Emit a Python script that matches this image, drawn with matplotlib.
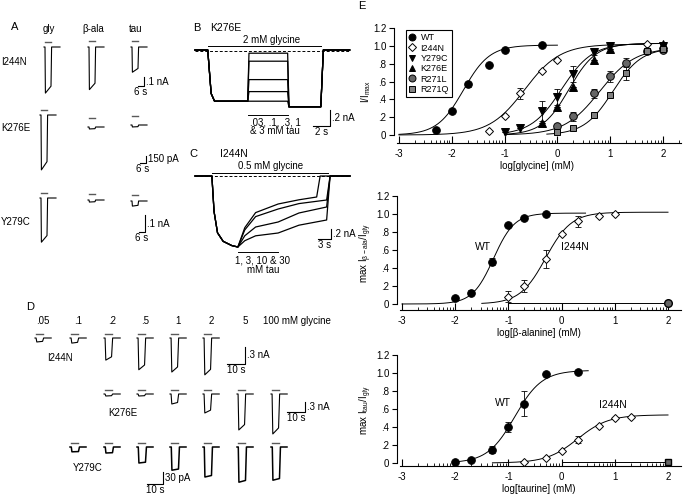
import numpy as np
import matplotlib
matplotlib.use('Agg')
import matplotlib.pyplot as plt
from matplotlib.lines import Line2D

plt.rcParams['font.family'] = ['Liberation Sans', 'DejaVu Sans']
plt.rcParams['font.size'] = 7

# ---------------- data ----------------
# panel A: peak currents (nA) for gly, b-ala, tau
A_agonists = ['gly', 'β-ala', 'tau']
A_mutants = ['I244N', 'K276E', 'Y279C']
A_peaks = [[0.53, 0.49, 0.29],
           [1.12, 0.04, 0.04],
           [0.26, 0.012, 0.03]]
A_scale_nA = [0.1, 0.15, 0.1]
A_scale_lab = ['.1 nA', '150 pA', '.1 nA']
A_scale_s = 6

# panel B: K276E, 2 mM glycine + taurine
B_tau = ['.03', '.1', '.3', '1', '3']
B_levels = [0.64, 0.52, 0.37, 0.14, 0.04]      # nA during taurine
B_gly = 0.64
B_gly_after = 0.71
B_times = [1.5, 6.2, 10.9, 14.8, 18.2]         # gly on, tau on, tau off, gly off, end (s)

# panel C: I244N, 0.5 mM glycine + taurine
C_tau = ['1', '3', '10', '30']
C_peak = 1.42
C_mid = [0.56, 0.66, 0.92, 1.14]               # nA at end of taurine
C_end = [0.42, 0.48, 0.62, 0.88]               # nA before glycine off
C_off = [28.4, 30.7, 30.7, 30.7]
C_times = [3.9, 9.9, 19.2, 35.8]               # gly on, tau on, tau off, end (s)

# panel D: glycine concentration series
D_conc = ['.05', '.1', '.2', '.5', '1', '2', '5', '100 mM glycine']
D_I244N = [0.07, 0.09, 0.39, 0.56, 0.60, 0.65]          # nA, conc 0..5
D_K276E = [0.06, 0.06, 0.30, 0.57, 1.08, 1.20]          # nA, conc 2..7
D_Y279C = [12, 15, 40, 58, 75, 88, 83]                  # pA, conc 1..7

# panel E: dose response, log10 concentration (mM)
gly_x = {
    'WT':    [-2.3, -2.0, -1.7, -1.3, -1.0, -0.3],
    'I244N': [-1.3, -1.0, -0.7, -0.3, 0.0, 1.7],
    'Y279C': [-1.0, -0.7, -0.3, 0.0, 0.3, 0.7, 1.0, 2.0],
    'K276E': [-0.3, 0.0, 0.3, 0.7, 1.0, 2.0],
    'R271L': [0.0, 0.3, 0.7, 1.0, 1.3, 1.7, 2.0],
    'R271Q': [0.0, 0.3, 0.7, 1.0, 1.3, 1.7, 2.0],
}
gly_y = {
    'WT':    [0.06, 0.27, 0.57, 0.79, 0.95, 1.01],
    'I244N': [0.045, 0.21, 0.47, 0.72, 0.84, 1.02],
    'Y279C': [0.03, 0.08, 0.27, 0.43, 0.69, 0.93, 1.0, 1.0],
    'K276E': [0.13, 0.31, 0.54, 0.84, 0.97, 1.02],
    'R271L': [0.10, 0.21, 0.47, 0.66, 0.81, 0.94, 0.96],
    'R271Q': [0.03, 0.08, 0.22, 0.45, 0.70, 0.94, 0.97],
}
gly_err = {
    'WT':    [0, 0, 0.03, 0, 0, 0],
    'I244N': [0, 0, 0.06, 0, 0, 0],
    'Y279C': [0, 0, 0.11, 0.09, 0.09, 0.03, 0, 0],
    'K276E': [0, 0, 0, 0, 0, 0],
    'R271L': [0, 0.05, 0.05, 0.06, 0.05, 0, 0],
    'R271Q': [0, 0, 0, 0, 0.08, 0, 0],
}
# Hill fits: (log EC50, n, max, x from, x to)
gly_fit = {
    'WT':    (-1.78, 1.75, 1.01, -3.0, 0.0),
    'I244N': (-0.62, 1.3, 1.02, -3.0, 1.7),
    'Y279C': (0.08, 1.5, 1.03, -1.0, 2.0),
    'K276E': (0.22, 1.7, 1.03, -1.0, 2.0),
    'R271L': (0.80, 1.3, 0.98, -1.0, 2.0),
    'R271Q': (1.05, 1.6, 0.98, -0.2, 2.0),
}

bala_x = {'WT': [-2.0, -1.7, -1.3, -1.0, -0.7, -0.3],
          'I244N': [-1.0, -0.7, -0.3, 0.0, 0.3, 0.7, 1.0]}
bala_y = {'WT': [0.07, 0.125, 0.47, 0.88, 0.96, 1.0],
          'I244N': [0.08, 0.2, 0.5, 0.78, 0.92, 0.98, 1.0]}
bala_err = {'WT': [0, 0.03, 0.04, 0, 0, 0],
            'I244N': [0.06, 0.07, 0.1, 0, 0.06, 0, 0]}
bala_fit = {'WT': (-1.28, 2.2, 1.01, -3.0, 0.45),
            'I244N': (-0.3, 1.8, 1.02, -1.5, 2.0)}

tau_x = {'WT': [-2.0, -1.7, -1.3, -1.0, -0.7, -0.3, 0.3],
         'I244N': [-0.7, -0.3, 0.0, 0.3, 0.7, 1.0, 1.3]}
tau_y = {'WT': [0.01, 0.03, 0.15, 0.40, 0.66, 0.99, 1.01],
         'I244N': [0.01, 0.055, 0.13, 0.26, 0.41, 0.495, 0.51]}
tau_err = {'WT': [0, 0, 0.04, 0.06, 0.14, 0, 0],
           'I244N': [0, 0, 0, 0.04, 0, 0, 0]}
tau_fit = {'WT': (-0.88, 1.7, 1.03, -2.0, 0.5),
           'I244N': (0.3, 1.5, 0.535, -1.3, 2.0)}

flat_y = 0.015   # non responding mutant at 100 mM

styles = {
    'WT':    dict(marker='o', mfc='k'),
    'I244N': dict(marker='D', mfc='white', ms=4.5),
    'Y279C': dict(marker='v', mfc='k'),
    'K276E': dict(marker='^', mfc='k'),
    'R271L': dict(marker='o', mfc='0.4'),
    'R271Q': dict(marker='s', mfc='0.5', ms=4.5),
}

# ---------------- figure ----------------
fig = plt.figure(figsize=(6.85, 4.94), dpi=100)
ax0 = fig.add_axes([0, 0, 1, 1])
ax0.set_xlim(0, 685)
ax0.set_ylim(494, 0)
ax0.axis('off')


def resp(x0, y0, peak, pxs, pxa, t_on=1.0, dur=5.0, t_end=16.0, sag=0.15, gap=4, lw=0.8):
    t = np.array([0, t_on, t_on + 0.4, t_on + dur, t_on + dur + 0.6, t_end])
    d = np.array([0, 0, peak, peak * (1 - sag), 0, 0])
    ax0.plot(x0 + t * pxs, y0 + d * pxa, color='k', lw=lw)
    ax0.plot([x0 + t_on * pxs, x0 + (t_on + dur) * pxs], [y0 - gap] * 2, color='0.35', lw=1)


def sbar(x, y, w, h, lab_v, lab_h):
    ax0.plot([x - w, x, x], [y, y, y - h], color='k', lw=0.8)
    ax0.text(x + 2.5, y - h / 2, lab_v, ha='left', va='center', fontsize=7)
    ax0.text(x - w / 2, y + 1, lab_h, ha='center', va='top', fontsize=7)


# panel A
ax0.text(15, 27, 'A', ha='center', va='center', fontsize=8)
A_colx = [44, 88, 131]
A_rowy = [[47, 47, 47], [115, 127, 125], [198, 200, 201]]
A_laby = [62, 128, 222]
A_pxa = [87, 49, 170]
A_sbar = [(144, 86), (146, 163), (145, 232)]
for j, lab in enumerate(A_agonists):
    ax0.text(A_colx[j] + 5, 29, lab, ha='center', va='center', fontsize=7)
for i, mut in enumerate(A_mutants):
    ax0.text(1, A_laby[i], mut, ha='left', va='center', fontsize=7)
    for j in range(3):
        resp(A_colx[j] - (4 if i > 0 and j == 0 else 0), A_rowy[i][j], A_peaks[i][j],
             1.0, A_pxa[i], dur=6, t_end=16, gap=5 if j == 0 else 9 if i == 1 else 6)
    sx_, sy_ = A_sbar[i]
    sbar(sx_, sy_, A_scale_s, A_scale_nA[i] * A_pxa[i], A_scale_lab[i], '6 s')

# panel B
pxs_B, pxa_B, xB, yB = 8.5, 80, 195, 50
ax0.text(197, 28, 'B', ha='center', va='center', fontsize=8)
ax0.text(210, 28, 'K276E', ha='left', va='center', fontsize=7.5)
ax0.text(272, 40, '2 mM glycine', ha='center', va='center', fontsize=7)
g_on, t_on, t_off, g_off, t_end = B_times
ax0.plot([xB + g_on * pxs_B, xB + g_off * pxs_B], [46, 46], color='k', lw=0.7)
ax0.plot([xB, xB + t_end * pxs_B], [yB + 1, yB + 1], color='k', lw=0.7, ls=(0, (3, 2)))
for lvl in B_levels:
    t = np.array([0, g_on, g_on + 0.4, g_on + 0.8, t_on, t_on + 0.15, t_off, t_off + 0.15,
                  g_off, g_off + 0.3, t_end])
    d = np.array([0, 0, B_gly * 0.85, B_gly, B_gly, lvl, lvl, B_gly_after, B_gly_after, 0, 0])
    ax0.plot(xB + t * pxs_B, yB + d * pxa_B, color='k', lw=0.9)
ax0.plot([xB + t_on * pxs_B, xB + t_off * pxs_B], [115, 115], color='k', lw=0.7)
ax0.text(275, 122, ', '.join(B_tau[:-1]), ha='center', va='center', fontsize=7)
ax0.text(275, 131, '& ' + B_tau[-1] + ' mM tau', ha='center', va='center', fontsize=7)
sbar(330, 126, 2 * pxs_B, 0.2 * pxa_B, '.2 nA', '2 s')

# panel C
pxs_C, pxa_C, xC, yC = 4.33, 50, 195, 176
ax0.text(193, 154, 'C', ha='center', va='center', fontsize=8)
ax0.text(220, 154, 'I244N', ha='left', va='center', fontsize=7.5)
ax0.text(271, 166, '0.5 mM glycine', ha='center', va='center', fontsize=7)
cg_on, ct_on, ct_off, c_end = C_times
ax0.plot([xC + cg_on * pxs_C, xC + 30.7 * pxs_C], [173, 173], color='k', lw=0.7)
ax0.plot([xC, xC + c_end * pxs_C], [yC, yC], color='k', lw=0.7, ls=(0, (3, 2)))
for mid, end, off in zip(C_mid, C_end, C_off):
    t = np.array([0, cg_on, cg_on + 0.5, cg_on + 1.3, cg_on + 2.6, cg_on + 4.6, ct_on,
                  ct_on + 1.6, ct_on + 4.1, ct_off, ct_off + 4.8, off - 0.3, off + 0.5, c_end])
    d = np.array([0, 0, 0.5 * C_peak, 0.8 * C_peak, 0.92 * C_peak, 0.98 * C_peak, C_peak,
                  C_peak - 0.45 * (C_peak - mid), C_peak - 0.8 * (C_peak - mid), mid,
                  mid - 0.6 * (mid - end), end, 0, 0])
    ax0.plot(xC + t * pxs_C, yC + d * pxa_C, color='k', lw=0.9)
ax0.plot([xC + ct_on * pxs_C, xC + ct_off * pxs_C], [252, 252], color='k', lw=0.7)
ax0.text(263, 260, ', '.join(C_tau[:-1]) + ' & ' + C_tau[-1], ha='center', va='center', fontsize=7)
ax0.text(263, 270, 'mM tau', ha='center', va='center', fontsize=7)
sbar(331, 239, 3 * pxs_C, 0.2 * pxa_C, '.2 nA', '3 s')

# panel D
ax0.text(30, 307, 'D', ha='center', va='center', fontsize=8)
D_colx = [35, 70, 104, 137, 170, 203, 237, 271]
for k, lab in enumerate(D_conc):
    if k < len(D_conc) - 1:
        ax0.text(D_colx[k] + 8, 321, lab, ha='center', va='center', fontsize=7)
    else:
        ax0.text(263, 321, lab, ha='left', va='center', fontsize=7)
for k, amp in enumerate(D_I244N):
    resp(D_colx[k], 338, amp, 1.8, 56.7, t_on=0.6, dur=3.6, t_end=9)
ax0.text(60, 358, 'I244N', ha='center', va='center', fontsize=7)
sbar(245, 364, 18, 0.3 * 56.7, '.3 nA', '10 s')
for k, amp in enumerate(D_K276E):
    resp(D_colx[k + 2], 394, amp, 1.8, 33.3, t_on=0.6, dur=3.6, t_end=9)
ax0.text(123, 413, 'K276E', ha='center', va='center', fontsize=7)
sbar(305, 412, 18, 0.3 * 33.3, '.3 nA', '10 s')
for k, amp in enumerate(D_Y279C):
    resp(D_colx[k + 1], 447, amp, 1.6, 0.4, t_on=0.8, dur=4.5, t_end=10, sag=0.05, lw=1.1)
ax0.text(88, 468, 'Y279C', ha='center', va='center', fontsize=7)
sbar(163, 484, 16, 30 * 0.4, '30 pA', '10 s')

# panel E
ax0.text(362, 6, 'E', ha='center', va='center', fontsize=8)


def hill(x, ec, n, top):
    return top / (1 + 10 ** (n * (ec - x)))


def make_e(xm3, x2, y0, y1, yline, xlabel):
    sx = (x2 - xm3) / 5.0
    sy = float(y0 - y1)
    left_px, right_px = xm3 - 5, 681
    top_val = 1.25
    top_px = y0 - top_val * sy
    ax = fig.add_axes([left_px / 685, 1 - yline / 494, (right_px - left_px) / 685,
                       (yline - top_px) / 494])
    xr = 2 + (right_px - x2) / sx
    ax.set_xlim(-3 - 5 / sx, xr)
    ax.set_ylim(-(yline - y0) / sy, top_val)
    ax.patch.set_alpha(0)
    for s in ['top', 'right']:
        ax.spines[s].set_visible(False)
    ax.spines['left'].set_bounds(0, 1.2)
    ax.spines['bottom'].set_bounds(-3 - 2 / sx, xr)
    for s in ['left', 'bottom']:
        ax.spines[s].set_linewidth(0.8)
    ax.set_yticks([0, .2, .4, .6, .8, 1.0, 1.2])
    ax.set_yticklabels(['0', '.2', '.4', '.6', '.8', '1.0', '1.2'])
    ax.set_xticks([-3, -2, -1, 0, 1, 2])
    ax.set_xticklabels(['-3', '-2', '-1', '0', '1', '2'])
    minor = [d + np.log10(k) for d in range(-3, 3) for k in range(2, 10)]
    ax.set_xticks([m for m in minor if m < xr], minor=True)
    ax.tick_params(axis='x', which='major', direction='in', length=5, width=0.8, labelsize=7, pad=4)
    ax.tick_params(axis='x', which='minor', direction='in', length=2.5, width=0.6)
    ax.tick_params(axis='y', direction='out', length=3.5, width=0.8, labelsize=7, pad=2)
    ax.set_xlabel(xlabel, fontsize=7, labelpad=2)
    return ax


def draw_set(ax, xs, ys, errs, fits, names):
    for nm in names:
        ec, n, top, a, b = fits[nm]
        xx = np.linspace(a, b, 200)
        ax.plot(xx, hill(xx, ec, n, top), color='k', lw=0.7, zorder=2)
    for nm in names:
        e = np.array(errs[nm])
        ax.errorbar(xs[nm], ys[nm], yerr=[e, e], fmt='none', ecolor='k',
                    elinewidth=0.6, capsize=2, capthick=0.6, zorder=3)
        st = dict(ms=5.5)
        st.update(styles[nm])
        ax.plot(xs[nm], ys[nm], ls='none', mec='k', mew=0.7, zorder=4, **st)


axE1 = make_e(399, 663, 135, 46, 143, 'log[glycine] (mM)')
draw_set(axE1, gly_x, gly_y, gly_err, gly_fit, list(gly_x.keys()))
handles = []
for nm in gly_x:
    st = dict(ms=5)
    st.update(styles[nm])
    handles.append(Line2D([], [], ls='none', mec='k', mew=0.7, **st))
leg = axE1.legend(handles, list(gly_x.keys()), loc='upper left', bbox_to_anchor=(0.025, 0.985),
                  fontsize=6.5, handlelength=0.8, handletextpad=0.5, labelspacing=0.15,
                  borderpad=0.35, fancybox=False, framealpha=1)
leg.get_frame().set_edgecolor('k')
leg.get_frame().set_linewidth(0.8)
ax0.text(366, 91, 'I/I$_{\\mathregular{max}}$', rotation=90, ha='center', va='center', fontsize=7)

axE2 = make_e(402, 668, 304, 214, 310, 'log[β-alanine] (mM)')
axE2.plot([-1.0, 2.0], [flat_y, flat_y], color='k', lw=0.7, zorder=2)
axE2.plot([2.0], [flat_y], ls='none', marker='o', mfc='0.4', mec='k', ms=5.5, zorder=4)
draw_set(axE2, bala_x, bala_y, bala_err, bala_fit, ['WT', 'I244N'])
axE2.text(-1.48, 0.63, 'WT', ha='center', va='center', fontsize=7.5)
axE2.text(0.25, 0.63, 'I244N', ha='center', va='center', fontsize=7.5)
ax0.text(366, 253, 'max I$_{\\mathregular{β-ala}}$/I$_{\\mathregular{gly}}$', rotation=90,
         ha='center', va='center', fontsize=7)

axE3 = make_e(402, 668, 463, 373, 466, 'log[taurine] (mM)')
axE3.plot([0.0, 2.0], [flat_y, flat_y], color='k', lw=0.7, zorder=2)
axE3.plot([2.0], [flat_y], ls='none', marker='s', mfc='0.4', mec='k', ms=4.5, zorder=4)
draw_set(axE3, tau_x, tau_y, tau_err, tau_fit, ['WT', 'I244N'])
axE3.text(-1.1, 0.67, 'WT', ha='center', va='center', fontsize=7.5)
axE3.text(0.97, 0.65, 'I244N', ha='center', va='center', fontsize=7.5)
ax0.text(366, 410, 'max I$_{\\mathregular{tau}}$/I$_{\\mathregular{gly}}$', rotation=90,
         ha='center', va='center', fontsize=7)

fig.savefig('out.png', dpi=100)
